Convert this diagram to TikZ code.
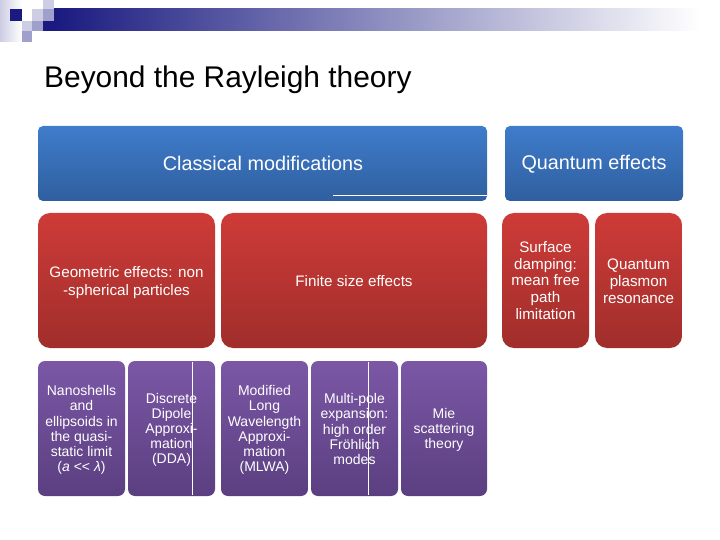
\documentclass[tikz,border=0pt]{standalone}
\usepackage{fontspec}
\setmainfont{Liberation Sans}
\definecolor{bluetop}{HTML}{3F7CCB}
\definecolor{bluebot}{HTML}{2F5F9F}
\definecolor{redtop}{HTML}{CE3B38}
\definecolor{redbot}{HTML}{A02E2B}
\definecolor{purtop}{HTML}{7B57A6}
\definecolor{purbot}{HTML}{5B3F80}
\definecolor{navy}{HTML}{1A1A80}
\definecolor{lav}{HTML}{A0A0CC}
\definecolor{lavl}{HTML}{CDCDE4}
\tikzset{
 card/.style={draw=none,inner sep=0pt,outer sep=0pt},
 bluecard/.style={card,rounded corners=5pt,top color=bluetop,bottom color=bluebot},
 redcard/.style={card,rounded corners=12pt,top color=redtop,bottom color=redbot},
 purcard/.style={card,rounded corners=7pt,top color=purtop,bottom color=purbot},
 label/.style={text=white,align=center,inner sep=0pt},
 bluelabel/.style={label,font=\fontsize{19.8}{22}\selectfont},
 redlabel/.style={label,font=\fontsize{15.2}{16.9}\selectfont},
 geolabel/.style={label,font=\fontsize{15.2}{18}\selectfont},
 purlabel/.style={label,font=\fontsize{14}{15.1}\selectfont},
 glitch/.style={draw=white,line width=0.8pt},
 tile/.style={draw=none,inner sep=0pt,outer sep=0pt},
}
\newcommand{\cardat}[6]{\node[#1,minimum width=#4pt-#2pt,minimum height=#5pt-#3pt,anchor=north west] (#6) at (#2,#3) {};}
\newcommand{\tileat}[6]{\node[tile,#1,minimum width=#4pt,minimum height=#5pt,anchor=north west] (#6) at (#2,#3) {};}
\begin{document}
\begin{tikzpicture}[x=1pt,y=-1pt]
\useasboundingbox (0,0) rectangle (720,540);
% header decoration
\tileat{left color=navy,right color=white}{54}{9}{646}{22}{bar}
\tileat{fill=navy}{43}{21}{11}{10}{barfoot}
\tileat{left color=lavl,right color=white}{0}{0}{22}{42}{sqA}
\tileat{fill=navy}{10}{9}{12}{12}{sqG}
\tileat{fill=lavl}{22}{21}{10}{10}{sqB}
\tileat{fill=lav}{22}{31}{10}{11}{sqC}
\tileat{fill=lavl}{32}{9}{11}{12}{sqD}
\tileat{fill=lav}{32}{21}{11}{10}{sqE}
\tileat{fill=lavl}{43}{0}{11}{9}{sqF}
\tileat{fill=lav}{43}{9}{11}{12}{sqH}
% title
\node[anchor=west,inner sep=0pt,font=\fontsize{29.9}{32}\selectfont] (title) at (44,80) {Beyond the Rayleigh theory};
% blue
\cardat{bluecard}{38}{126}{487}{201}{classical}
\cardat{bluecard}{505}{126}{683}{201}{quantum}
\node[bluelabel] (classicaltext) at (263,163) {Classical modifications};
\node[bluelabel] (quantumtext) at (594,164.5) {Quantum effects};
% red
\cardat{redcard}{38}{213}{215}{348}{geo}
\node[geolabel] (geotext) at (126.5,283) {Geometric effects: non\\-spherical particles};
\cardat{redcard}{221}{213}{487}{348}{finite}
\node[redlabel] (finitetext) at (354,281) {Finite size effects};
\cardat{redcard}{502}{213}{589}{348}{surface}
\node[redlabel] (surfacetext) at (545.5,280.5) {Surface\\damping:\\mean free\\path\\limitation};
\cardat{redcard}{595}{213}{682}{348}{plasmon}
\node[redlabel] (plasmontext) at (638.5,281) {Quantum\\plasmon\\resonance};
% purple
\cardat{purcard}{38}{361}{125}{496}{nano}
\node[purlabel] (nanotext) at (81.5,430) {Nanoshells\\and\\ellipsoids in\\the quasi-\\static limit\\(\textit{a} <{}< \textit{λ})};
\cardat{purcard}{128}{361}{215}{496}{dda}
\node[purlabel] (ddatext) at (171.5,430) {Discrete\\Dipole\\Approxi-\\mation\\(DDA)};
\cardat{purcard}{221}{361}{308}{496}{mlwa}
\node[purlabel] (mlwatext) at (264.5,430) {Modified\\Long\\Wavelength\\Approxi-\\mation\\(MLWA)};
\cardat{purcard}{311}{361}{398}{496}{multi}
\node[purlabel] (multitext) at (354.5,429) {Multi-pole\\expansion:\\high order\\Fröhlich\\modes};
\cardat{purcard}{401}{361}{487}{496}{mie}
\node[purlabel] (mietext) at (444,430) {Mie\\scattering\\theory};
% thin white lines
\coordinate (la) at (333,195); \coordinate (lb) at (487,195);
\coordinate (lc) at (192,362); \coordinate (ld) at (192,495);
\coordinate (le) at (368,362); \coordinate (lf) at (368,495);
\draw[glitch] (la) -- (lb);
\draw[glitch] (lc) -- (ld);
\draw[glitch] (le) -- (lf);
\end{tikzpicture}
\end{document}
